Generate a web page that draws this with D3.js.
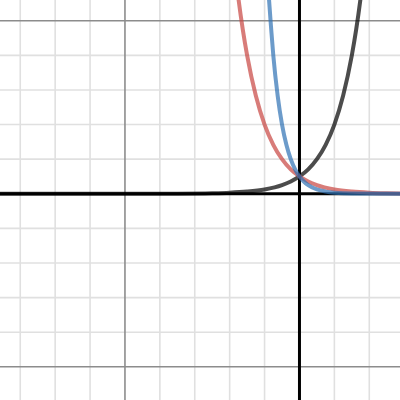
<!DOCTYPE html>
<html>
<head>
<meta charset="utf-8">
<title>Exponential curves</title>
<script src="https://cdn.jsdelivr.net/npm/d3@7"></script>
<style>
    html, body { margin: 0; padding: 0; background: #fff; }
    svg { display: block; }
</style>
</head>
<body>
<div id="chart"></div>
<script>
'use strict';

// grid lines (in graph units)
const minorTicksX = [-16, -14, -12, -8, -6, -4, -2, 2, 4];
const majorTicksX = [-10];
const minorTicksY = [-10, -8, -6, -4, -2, 2, 4, 6, 8, 10].filter(v => Math.abs(v) !== 10);
const majorTicksY = [-10, 10];

// curves: [x, y]
const blackCurve = [
    [-18, 0], [-10, 0.001], [-7, 0.008], [-5, 0.03], [-4, 0.06], [-3, 0.125],
    [-2, 0.25], [-1, 0.5], [-0.5, 0.71], [0, 1], [0.5, 1.41], [1, 2],
    [1.5, 2.83], [2, 4], [2.5, 5.66], [3, 8], [3.25, 9.5], [3.5, 11.3], [3.7, 13]
];
const redCurve = [
    [-3.7, 13], [-3.5, 11.3], [-3.25, 9.5], [-3, 8], [-2.5, 5.66], [-2, 4],
    [-1.5, 2.83], [-1, 2], [-0.5, 1.41], [0, 1], [0.5, 0.71], [1, 0.5],
    [2, 0.25], [3, 0.125], [4, 0.06], [5, 0.03], [6, 0.016]
];
const blueCurve = [
    [-1.85, 13], [-1.75, 11.3], [-1.62, 9.5], [-1.5, 8], [-1.25, 5.66], [-1, 4],
    [-0.75, 2.83], [-0.5, 2], [-0.25, 1.41], [0, 1], [0.25, 0.71], [0.5, 0.5],
    [1, 0.25], [1.5, 0.125], [2, 0.06], [3, 0.016], [6, 0]
];

const series = [
    { name: 'black', points: blackCurve, colour: '#000000' },
    { name: 'red', points: redCurve, colour: '#c74440' },
    { name: 'blue', points: blueCurve, colour: '#2d70b3' }
];

const width = 400, height = 400;

const scaleX = d3.scaleLinear().domain([-17.16, 5.76]).range([0, width]);
const scaleY = d3.scaleLinear().domain([11.2, -11.92]).range([0, height]);

const svg = d3.select('#chart').append('svg')
    .attr('width', width)
    .attr('height', height);

svg.append('rect')
    .attr('width', width)
    .attr('height', height)
    .attr('fill', '#fff');

const gridGroup = svg.append('g').classed('grid', true);

function drawVertical(values, colour, w) {
    gridGroup.selectAll(null)
        .data(values)
        .join('line')
        .attr('x1', d => scaleX(d))
        .attr('x2', d => scaleX(d))
        .attr('y1', 0)
        .attr('y2', height)
        .attr('stroke', colour)
        .attr('stroke-width', w);
}

function drawHorizontal(values, colour, w) {
    gridGroup.selectAll(null)
        .data(values)
        .join('line')
        .attr('y1', d => scaleY(d))
        .attr('y2', d => scaleY(d))
        .attr('x1', 0)
        .attr('x2', width)
        .attr('stroke', colour)
        .attr('stroke-width', w);
}

drawVertical(minorTicksX, '#e0e0e0', 1.6);
drawHorizontal(minorTicksY, '#e0e0e0', 1.6);
drawVertical(majorTicksX, '#8c8c8c', 1.6);
drawHorizontal(majorTicksY, '#8c8c8c', 1.6);

// axes
svg.append('line')
    .attr('x1', 0).attr('x2', width)
    .attr('y1', scaleY(0)).attr('y2', scaleY(0))
    .attr('stroke', '#000').attr('stroke-width', 3);

svg.append('line')
    .attr('y1', 0).attr('y2', height)
    .attr('x1', scaleX(0)).attr('x2', scaleX(0))
    .attr('stroke', '#000').attr('stroke-width', 3);

const line = d3.line()
    .x(d => scaleX(d[0]))
    .y(d => scaleY(d[1]))
    .curve(d3.curveMonotoneX);

svg.append('g').classed('curves', true)
    .selectAll('path')
    .data(series)
    .join('path')
    .attr('d', d => line(d.points))
    .attr('fill', 'none')
    .attr('stroke', d => d.colour)
    .attr('stroke-opacity', 0.7)
    .attr('stroke-width', 4)
    .attr('stroke-linejoin', 'round')
    .attr('stroke-linecap', 'round');
</script>
</body>
</html>
